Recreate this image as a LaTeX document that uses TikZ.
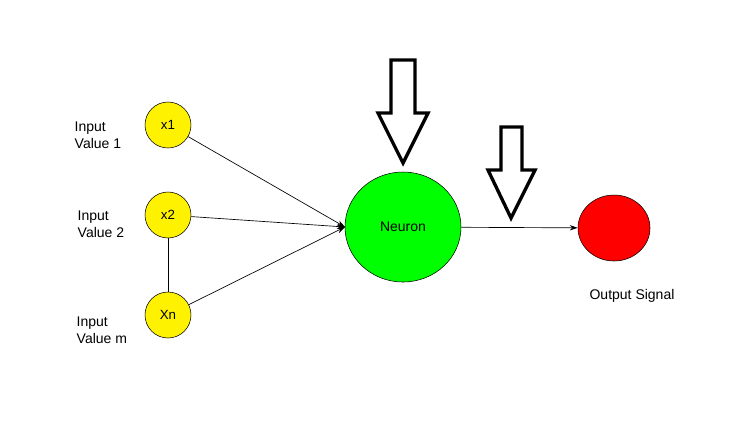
\documentclass[tikz,border=0pt]{standalone}
\usepackage{fontspec}
\setmainfont{Liberation Sans}
\usetikzlibrary{arrows.meta,shapes.geometric}
\begin{document}
\begin{tikzpicture}[x=0.75pt,y=-0.75pt,
 inp/.style={circle,draw=black,fill=yellow,minimum size=46*0.75pt,inner sep=0pt,font=\fontsize{10}{12}\selectfont},
 lbl/.style={align=left,anchor=west,font=\fontsize{10.5}{13}\selectfont},
 con/.style={draw=black,line width=0.5pt,-{Stealth[length=6pt,width=4pt]}},
 hollow/.style={draw=black,line width=2.5pt,fill=white,line join=miter}]
\useasboundingbox (0,0) rectangle (734,437);
\node[inp] (x1) at (168,125) {x1};
\node[inp] (x2) at (168,215) {x2};
\node[inp] (xn) at (168,315) {Xn};
\node[ellipse,draw=black,fill=green,minimum width=116*0.75pt,minimum height=110*0.75pt,inner sep=0pt,font=\fontsize{10.5}{12}\selectfont] (neu) at (403,227) {Neuron};
\node[ellipse,draw=black,fill=red,minimum width=72*0.75pt,minimum height=66*0.75pt] (out) at (614,228) {};
\node[lbl] (l1) at (70,135) {Input\\Value 1};
\node[lbl] (l2) at (73,224) {Input\\Value 2};
\node[lbl] (l3) at (72,330) {Input\\Value m};
\node[font=\fontsize{10.5}{12}\selectfont] (os) at (632,296) {Output Signal};
\coordinate (nin) at (345,227);
\draw[con] (x1) -- (nin);
\draw[con] (x2) -- (nin);
\draw[con] (xn) -- (nin);
\draw[line width=0.5pt] (x2) -- (xn);
\draw[con] (neu) -- (out);
\draw[hollow] (391,60) -- (415,60) -- (415,113) -- (428,113) -- (403,163) -- (378,113) -- (391,113) -- cycle;
\draw[hollow] (501,127) -- (522,127) -- (522,170) -- (535,170) -- (511,218) -- (488,170) -- (501,170) -- cycle;
\end{tikzpicture}
\end{document}
